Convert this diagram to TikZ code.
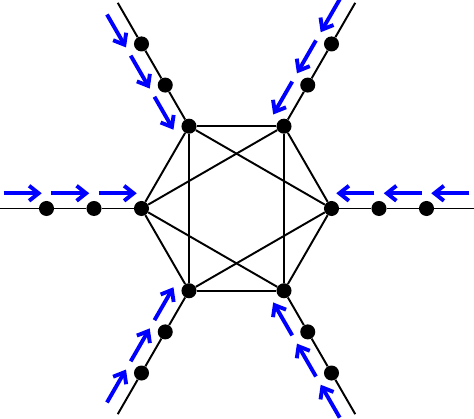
\documentclass[tikz,border=0pt]{standalone}
\usetikzlibrary{arrows.meta}
\tikzset {
    x=1.2cm, y=1.2cm,
    dot/.style={circle, fill=black, inner sep=0pt, minimum size=0.38cm},
    wire/.style={line width=1.4pt},
    flow/.style={-{Straight Barb[length=2.4mm, width=3.8mm]}, blue, line width=2.8pt}
}
\begin{document}
\begin{tikzpicture}
    \useasboundingbox (-4.979,-4.411) rectangle (5.0,4.389);

    % hexagon vertices and the dots on each leg
    \foreach \i in {0,...,5} {
        \node[dot] (v\i) at (60*\i:2) {};
        \node[dot] (a\i) at (60*\i:3) {};
        \node[dot] (b\i) at (60*\i:4) {};
        \coordinate (e\i) at (60*\i:5);
        \draw[wire] (v\i) -- (a\i) -- (b\i) -- (e\i);
    }

    % all pairs except opposite vertices
    \foreach \i in {0,...,5}
        \foreach \j in {1,2} {
            \pgfmathtruncatemacro\k{mod(\i+\j,6)}
            \draw[wire] (v\i) -- (v\k);
        }

    % arrows pointing inward along the legs
    \foreach \i in {0,...,5}
        \foreach \r in {2,3,4} {
            \pgfmathsetmacro\o{60*mod(\i,3)+90}
            \pgfmathsetmacro\s{\r+0.9}
            \pgfmathsetmacro\t{\r+0.1}
            \draw[flow] ([shift={(\o:0.32)}]60*\i:\s) -- ([shift={(\o:0.32)}]60*\i:\t);
        }
\end{tikzpicture}
\end{document}
